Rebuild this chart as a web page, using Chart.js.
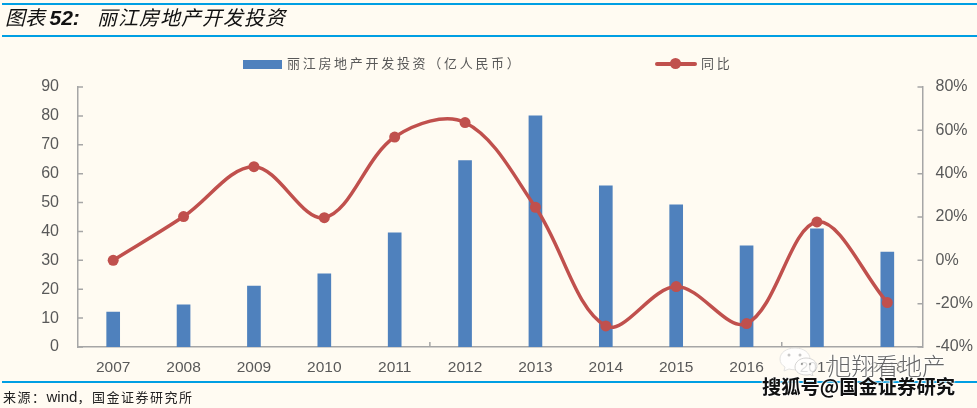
<!DOCTYPE html>
<html lang="zh-CN">
<head>
<meta charset="UTF-8">
<title>丽江房地产开发投资</title>
<script src="https://cdn.jsdelivr.net/npm/chart.js"></script>
<style>
    html, body { margin: 0; padding: 0; background: #FFFBF2; }
    .quadro { position: relative; width: 977px; height: 408px; overflow: hidden; background: #FFFBF2; font-family: "Noto Sans CJK SC", sans-serif; }
    .quadro canvas { position: absolute; left: 0; top: 0; }
    .linha { position: absolute; left: 2px; right: 0; height: 2px; background: #009FE3; }
    .titulo { position: absolute; left: 5px; top: 2px; height: 30px; line-height: 30px; font-size: 20px; font-style: italic; color: #111; white-space: pre; }
    .titulo b { font-family: "Liberation Sans", sans-serif; font-size: 21px; }
    .titulo span { position: absolute; left: 92px; top: 0; letter-spacing: 1px; }
    .fonte { position: absolute; left: 3px; top: 387px; line-height: 20px; font-size: 13px; color: #222; white-space: pre; letter-spacing: 1.5px; }
    .fonte i { font-style: normal; font-family: "Liberation Sans", sans-serif; font-size: 15px; letter-spacing: 0; }
    .legenda { position: absolute; top: 53px; line-height: 20px; font-size: 13px; color: #595959; letter-spacing: 2.7px; white-space: pre; }
    .caixa { position: absolute; left: 243px; top: 60px; width: 39px; height: 9px; background: #4F81BD; }
    .traco { position: absolute; left: 655px; top: 62px; width: 42px; height: 4px; background: #C0504D; border-radius: 2px; }
    .bolinha { position: absolute; left: 670px; top: 58px; width: 11px; height: 11px; background: #C0504D; border-radius: 50%; }
    .marca1 { position: absolute; left: 828px; top: 349px; line-height: 32px; font-size: 23.5px; font-weight: 300; color: #666; white-space: pre; text-shadow: 0 0 2px #fff, 0 0 2px #fff, 0 0 3px #fff, 0 0 4px #fffbf2, 0 0 5px #fffbf2; }
    .marca2 { position: absolute; left: 762px; top: 372px; line-height: 28px; font-size: 19.3px; font-weight: 700; color: #111; white-space: pre; text-shadow: 0 0 2px #fff, 0 0 2px #fff, 0 0 2px #fff; }
    .wechat { position: absolute; left: 779px; top: 346px; opacity: 0.8; }
</style>
</head>
<body>
    <div class="quadro">
        <canvas id="myChart" width="977" height="408"></canvas>

        <div class="linha" style="top:3px"></div>
        <div class="linha" style="top:35px"></div>
        <div class="linha" style="top:381px"></div>

        <div class="titulo">图表 <b>52:</b><span>丽江房地产开发投资</span></div>
        <div class="fonte">来源：<i>wind</i>，国金证券研究所</div>

        <!-- Legenda -->
        <div class="caixa"></div>
        <div class="legenda" id="legenda_barra" style="left:287px"></div>
        <div class="traco"></div>
        <div class="bolinha"></div>
        <div class="legenda" id="legenda_linha" style="left:701px"></div>

        <!-- Marca d'agua -->
        <svg class="wechat" width="40" height="30" viewBox="0 0 40 30">
            <path d="M16 2C7 2 1 7 1 13c0 4 2 6 5 8l-1 4 5-2c2 .6 4 .8 6 .8C25 24 31 19 31 13S25 2 16 2z" fill="#fff" stroke="#ddd" stroke-width="1"/>
            <path d="M27 12c-6 0-11 4-11 9s5 8 11 8c1 0 3 0 4-.5l3 1.5-1-3c3-1.500 5-4 5-6.500 0-5-5-8.500-11-8.500z" fill="#fff" stroke="#ccc" stroke-width="1"/>
            <circle cx="10" cy="9" r="1.500" fill="#bbb"/><circle cx="21" cy="9" r="1.500" fill="#bbb"/>
            <circle cx="23" cy="18" r="1.200" fill="#aaa"/><circle cx="31" cy="18" r="1.200" fill="#aaa"/>
        </svg>
        <div class="marca1">旭翔看地产</div>
        <div class="marca2">搜狐号@国金证券研究</div>
    </div>

<script>
    // Dados
    const anos = ['2007', '2008', '2009', '2010', '2011', '2012', '2013', '2014', '2015', '2016', '2017', '2018'];
    const investimento = [12.1, 14.6, 21.1, 25.3, 39.5, 64.5, 80, 55.8, 49.2, 35, 40.9, 32.9];
    const variacao = [0, 20.2, 43.2, 19.7, 56.9, 63.6, 24.5, -30.3, -12.1, -29.2, 17.7, -19.5];
    const nomeBarra = '丽江房地产开发投资（亿人民币）';
    const nomeLinha = '同比';

    legenda_barra.textContent = nomeBarra;
    legenda_linha.textContent = nomeLinha;

    const corEixo = '#A6A6A6';
    const corTexto = '#595959';

    // Tracinhos para dentro do grafico, como no original
    const tracinhos = {
        id: 'tracinhos',
        afterDatasetsDraw(chart) {
            const ctx = chart.ctx;
            const area = chart.chartArea;
            const tam = 5;
            ctx.save();
            ctx.strokeStyle = corEixo;
            ctx.lineWidth = 1.5;
            ctx.beginPath();
            chart.scales.y.ticks.forEach(t => {
                const py = chart.scales.y.getPixelForValue(t.value);
                ctx.moveTo(area.left, py);
                ctx.lineTo(area.left + tam, py);
            });
            chart.scales.y1.ticks.forEach(t => {
                const py = chart.scales.y1.getPixelForValue(t.value);
                ctx.moveTo(area.right, py);
                ctx.lineTo(area.right - tam, py);
            });
            // eixo x: uma marca a cada 5 categorias
            const passo = area.width / anos.length;
            for (let i = 5; i < anos.length; i += 5) {
                const px = area.left + passo * i;
                ctx.moveTo(px, area.bottom);
                ctx.lineTo(px, area.bottom - tam);
            }
            ctx.stroke();
            ctx.restore();
        }
    };

    new Chart(document.getElementById('myChart'), {
        data: {
            labels: anos,
            datasets: [
                {
                    type: 'line',
                    label: nomeLinha,
                    data: variacao,
                    yAxisID: 'y1',
                    order: 1,
                    borderColor: '#C0504D',
                    backgroundColor: '#C0504D',
                    borderWidth: 3.5,
                    tension: 0.35,
                    pointRadius: 5.5,
                    pointBackgroundColor: '#C0504D',
                    pointBorderWidth: 0,
                    clip: false
                },
                {
                    type: 'bar',
                    label: nomeBarra,
                    data: investimento,
                    yAxisID: 'y',
                    order: 2,
                    backgroundColor: '#4F81BD',
                    barThickness: 13
                }
            ]
        },
        options: {
            responsive: false,
            animation: false,
            layout: { padding: { top: 87, left: 0, right: 0, bottom: 0 } },
            plugins: { legend: { display: false }, tooltip: { enabled: false } },
            scales: {
                x: {
                    grid: { display: false, drawTicks: false },
                    border: { color: corEixo, width: 1.5 },
                    ticks: { color: corTexto, font: { family: 'Liberation Sans', size: 15.5 }, padding: 11, maxRotation: 0, autoSkip: false },
                    afterFit: s => { s.height = 61; }
                },
                y: {
                    position: 'left',
                    min: 0, max: 90,
                    grid: { display: false, drawTicks: false },
                    border: { color: corEixo, width: 1.5 },
                    ticks: { stepSize: 10, color: corTexto, font: { family: 'Liberation Sans', size: 16 }, padding: 19 },
                    afterFit: s => { s.width = 78; }
                },
                y1: {
                    position: 'right',
                    min: -40, max: 80,
                    grid: { display: false, drawTicks: false },
                    border: { color: corEixo, width: 1.5 },
                    ticks: { stepSize: 20, color: corTexto, font: { family: 'Liberation Sans', size: 16 }, padding: 13, callback: v => v + '%' },
                    afterFit: s => { s.width = 54.5; }
                }
            }
        },
        plugins: [tracinhos]
    });
</script>
</body>
</html>
